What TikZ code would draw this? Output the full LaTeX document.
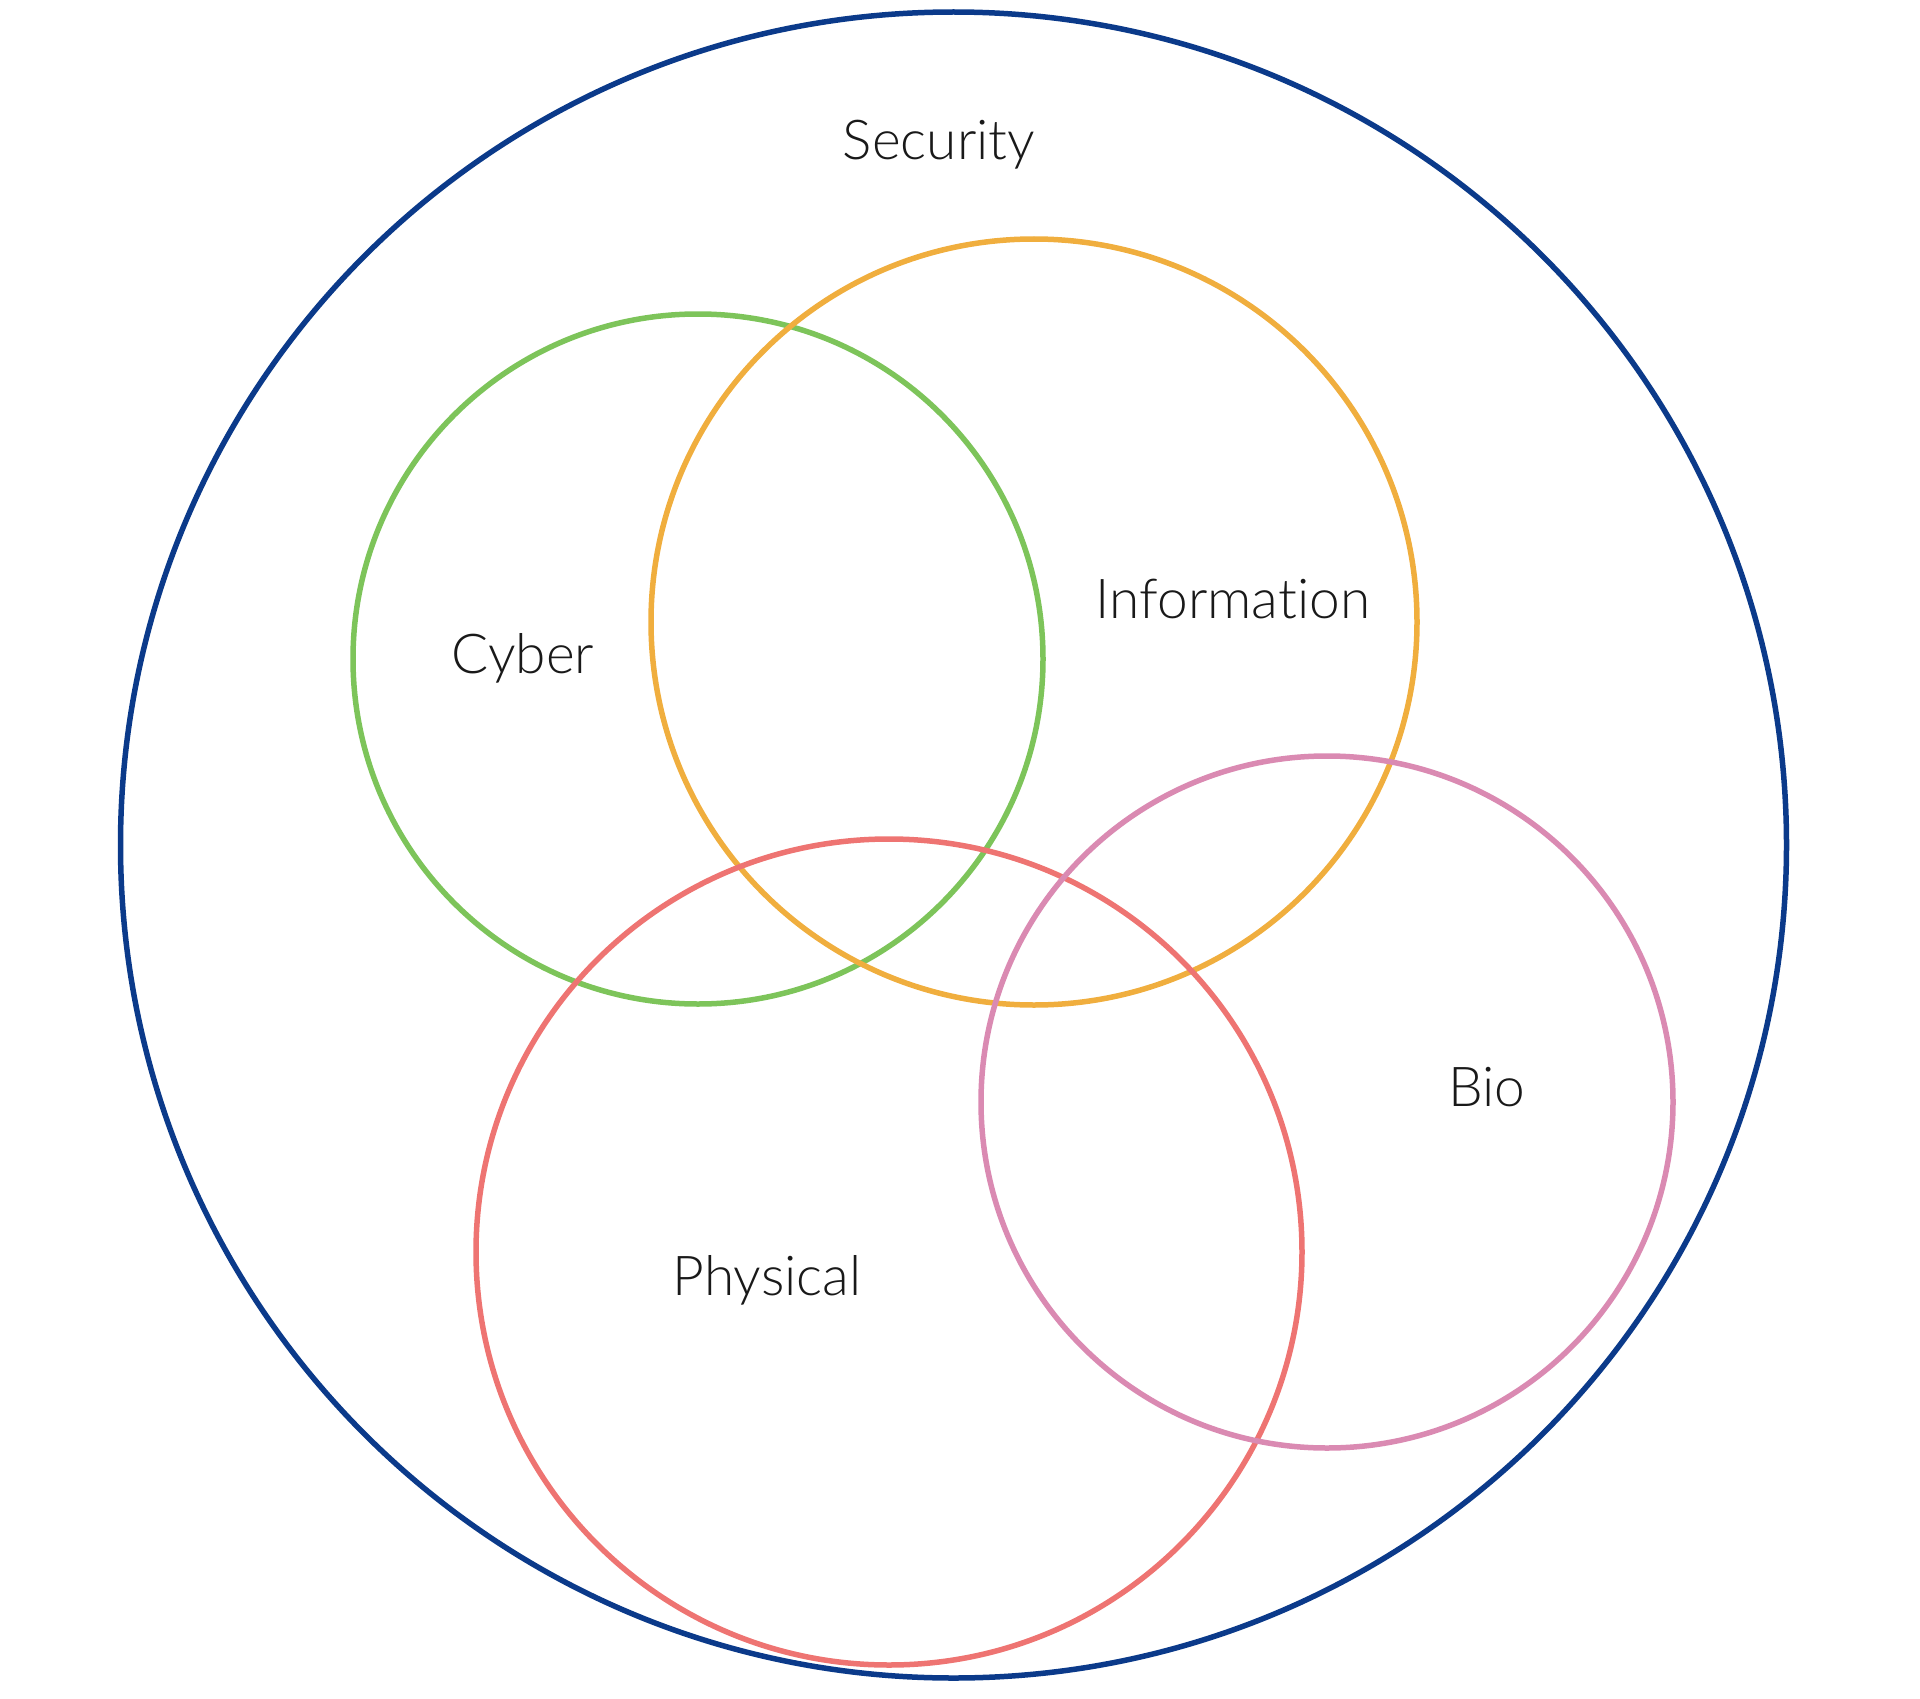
\documentclass[tikz,border=0pt]{standalone}
\usepackage{fontspec}
\setmainfont{Lato}[UprightFont={* Light}, Ligatures={NoCommon,NoRequired,NoContextual}]
\definecolor{outerc}{HTML}{0B3A8A}
\definecolor{cyberc}{HTML}{7DC45A}
\definecolor{infoc}{HTML}{F0AE3E}
\definecolor{physc}{HTML}{EE7472}
\definecolor{bioc}{HTML}{DA8AB2}
\tikzset{
  ring/.style={line width=5.5pt},
  lbl/.style={anchor=base, inner sep=0pt, font=\fontsize{55}{60}\selectfont, text=black!90}
}
\begin{document}
\begin{tikzpicture}[x=1pt,y=-1pt]
\useasboundingbox (0,0) rectangle (1920,1699);
\draw[ring, outerc] (953.5,845) circle[radius=833];
\draw[ring, cyberc] (698,659) circle[radius=345];
\draw[ring, infoc] (1034,622) circle[radius=383];
\draw[ring, physc] (889,1252) circle[radius=413];
\draw[ring, bioc] (1327,1102) circle[radius=346];
\node[lbl] (security) at (939,160) {Security};
\node[lbl] (cyber) at (523,673) {Cyber};
\node[lbl] (info) at (1233,618) {Information};
\node[lbl] (bio) at (1487,1106) {Bio};
\node[lbl] (phys) at (767,1295) {Physical};
\end{tikzpicture}
\end{document}
